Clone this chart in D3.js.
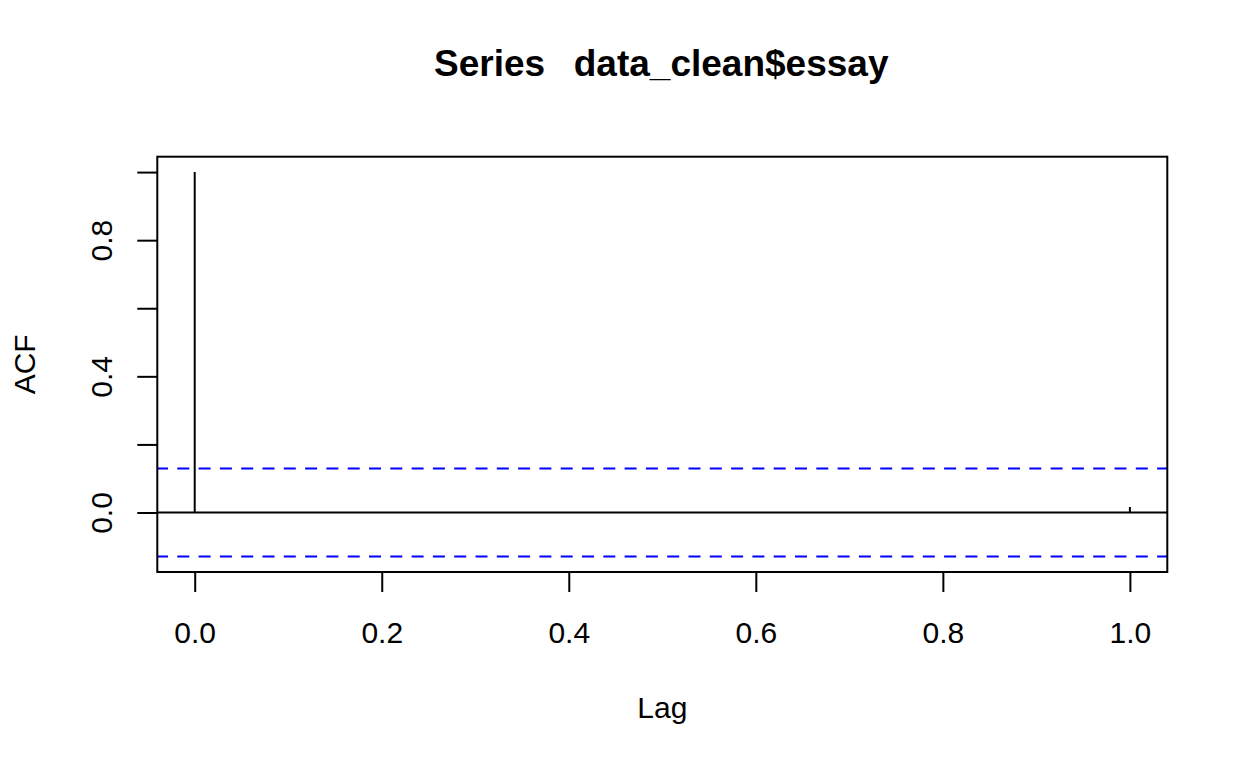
<!DOCTYPE html>
<html>
<head>
<meta charset="utf-8">
<script src="https://cdn.jsdelivr.net/npm/d3@7"></script>
<style>
body{
	margin:0;
	background-color: white;
}
text{
	font-family: "Liberation Sans", Arial, sans-serif;
	fill: black;
}
</style>
</head>
<body>
<div class="chart"></div>
<script>
// acf values
var lags = [0, 1];
var acfValues = [1, 0.016];
var ciLimit = 0.1296;
var xTicks = [0, 0.2, 0.4, 0.6, 0.8, 1.0];
var yTicks = [0, 0.2, 0.4, 0.6, 0.8, 1.0];
var yTickLabels = ['0.0', '', '0.4', '', '0.8', ''];
var titleText = 'Series  data_clean$essay';
var xLabel = 'Lag';
var yLabel = 'ACF';

(function(){
var width = 1248, height = 768;
var pLeft = 157.3, pRight = 1167.3, pTop = 156.7, pBottom = 572;

// R style 4% padding on both ends
function pad(lo, hi){
	var d = (hi - lo) * 0.04;
	return [lo - d, hi + d];
}
var xDom = pad(d3.min(lags), d3.max(lags));
var yDom = pad(Math.min(-ciLimit, d3.min(acfValues)), Math.max(ciLimit, d3.max(acfValues)));

var x = d3.scaleLinear().domain(xDom).range([pLeft, pRight]);
var y = d3.scaleLinear().domain(yDom).range([pBottom, pTop]);

var svg = d3.select('.chart').append('svg')
	.attr('width', width)
	.attr('height', height)
	.style('display', 'block');

svg.append('rect').attr('width', width).attr('height', height).attr('fill', 'white');

svg.append('clipPath').attr('id', 'plotclip')
	.append('rect')
	.attr('x', pLeft).attr('y', pTop)
	.attr('width', pRight - pLeft).attr('height', pBottom - pTop);

var plot = svg.append('g').attr('clip-path', 'url(#plotclip)');

// zero line
plot.append('line')
	.attr('x1', pLeft).attr('x2', pRight)
	.attr('y1', y(0)).attr('y2', y(0))
	.attr('stroke', 'black').attr('stroke-width', 2);

// confidence bands
plot.selectAll('line.ci').data([ciLimit, -ciLimit]).enter().append('line')
	.attr('class', 'ci')
	.attr('x1', pLeft).attr('x2', pRight)
	.attr('y1', function(d){ return y(d); })
	.attr('y2', function(d){ return y(d); })
	.attr('stroke', '#0000ff')
	.attr('stroke-width', 2)
	.attr('stroke-dasharray', '12,9.3')
	.attr('stroke-dashoffset', 1.3);

// spikes
plot.selectAll('line.spike').data(acfValues).enter().append('line')
	.attr('class', 'spike')
	.attr('x1', function(d, i){ return x(lags[i]); })
	.attr('x2', function(d, i){ return x(lags[i]); })
	.attr('y1', y(0))
	.attr('y2', function(d){ return y(d); })
	.attr('stroke', 'black').attr('stroke-width', 2);

// box
svg.append('rect')
	.attr('x', pLeft).attr('y', pTop)
	.attr('width', pRight - pLeft).attr('height', pBottom - pTop)
	.attr('fill', 'none').attr('stroke', 'black').attr('stroke-width', 2);

// x axis
var xAxis = svg.append('g')
	.attr('transform', 'translate(0,' + pBottom + ')')
	.call(d3.axisBottom(x).tickValues(xTicks).tickSize(20).tickPadding(29.5)
		.tickFormat(d3.format('.1f')));
xAxis.select('.domain').remove();
xAxis.selectAll('line').attr('stroke', 'black').attr('stroke-width', 2);
xAxis.selectAll('text').style('font-size', '30px').attr('fill', 'black')
	.style('font-family', '"Liberation Sans", Arial, sans-serif');

// y axis, labels rotated like R's las=0
var yAxis = svg.append('g')
	.attr('transform', 'translate(' + pLeft + ',0)')
	.call(d3.axisLeft(y).tickValues(yTicks).tickSize(20)
		.tickFormat(function(d, i){ return yTickLabels[i]; }));
yAxis.select('.domain').remove();
yAxis.selectAll('line').attr('stroke', 'black').attr('stroke-width', 2);
yAxis.selectAll('text')
	.attr('x', null).attr('dy', null)
	.attr('text-anchor', 'middle')
	.attr('transform', 'translate(-45.6,0) rotate(-90)')
	.attr('fill', 'black')
	.style('font-size', '30px')
	.style('font-family', '"Liberation Sans", Arial, sans-serif');

// titles
var cx = (pLeft + pRight) / 2;
svg.append('text')
	.attr('x', cx - 1).attr('y', 76)
	.attr('text-anchor', 'middle')
	.style('font-size', '37px').style('font-weight', 'bold')
	.style('white-space', 'pre')
	.style('word-spacing', '4px')
	.text(titleText);

svg.append('text')
	.attr('x', cx).attr('y', 718)
	.attr('text-anchor', 'middle')
	.style('font-size', '30px')
	.text(xLabel);

svg.append('text')
	.attr('transform', 'translate(35,' + (pTop + pBottom) / 2 + ') rotate(-90)')
	.attr('text-anchor', 'middle')
	.style('font-size', '30px')
	.text(yLabel);
})();
</script>
</body>
</html>
